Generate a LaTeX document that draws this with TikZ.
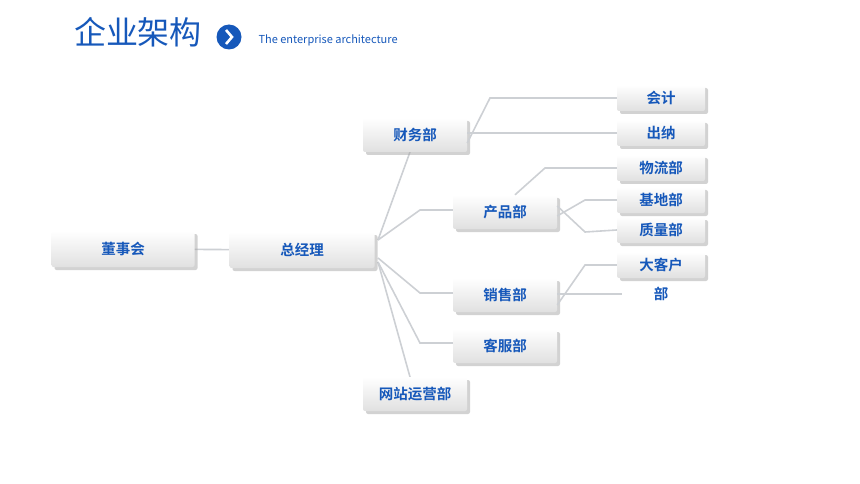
\documentclass[tikz,border=0pt]{standalone}
\usepackage{fontspec}
\setmainfont{Noto Sans CJK SC}
\newfontfamily\cjkbold{Noto Sans CJK SC Bold}
\usetikzlibrary{shadows}
\definecolor{deptblue}{RGB}{22,88,186}
\definecolor{linegray}{RGB}{205,208,212}
\tikzset{
	unitbox/.style={rectangle, rounded corners=2pt, minimum height=34pt, top color=white, bottom color=black!12,
		drop shadow={shadow xshift=3pt, shadow yshift=-3pt, fill=black!35, opacity=.5},
		text=deptblue, font=\cjkbold\fontsize{14.5}{14.5}\selectfont},
	leafbox/.style={unitbox, minimum width=88pt, minimum height=26pt},
	link/.style={draw=linegray, line width=1.6pt},
}
\begin{document}
\begin{tikzpicture}[x=1pt, y=-1pt]
\useasboundingbox (0,0) rectangle (860,484);
% title
\node (title) at (138,32) {\textcolor{deptblue}{\fontsize{32}{32}\selectfont 企业架构}};
\fill[deptblue] (229,37) circle (12.5);
\draw[white, line width=2.6pt] (226,30) -- (232,37) -- (226,44);
\node[anchor=west, text=deptblue, font=\fontsize{11}{11}\selectfont] (subtitle) at (255,40) {The enterprise architecture};
% links
\draw[link] (123,249) -- (302,250);
\draw[link] (378,240) -- (410,152);
\draw[link] (378,240) -- (420,210) -- (453,210);
\draw[link] (378,258) -- (420,293) -- (453,293);
\draw[link] (378,262) -- (420,343) -- (453,343);
\draw[link] (378,262) -- (410,377);
% boxes
\node[unitbox, minimum width=143pt, minimum height=36pt] (board) at (123,249) {董事会};
\node[unitbox, minimum width=145pt, minimum height=36pt] (ceo) at (302,250) {总经理};
\node[unitbox, minimum width=104pt] (finance) at (415,135) {财务部};
\node[unitbox, minimum width=104pt] (product) at (505,212) {产品部};
\node[unitbox, minimum width=104pt] (sales) at (505,295) {销售部};
\node[unitbox, minimum width=104pt] (service) at (505,346) {客服部};
\node[unitbox, minimum width=104pt] (web) at (415,394) {网站运营部};
\node[leafbox] (acct) at (661,98) {会计};
\node[leafbox] (cashier) at (661,133) {出纳};
\node[leafbox] (logis) at (661,168) {物流部};
\node[leafbox] (base) at (661,200) {基地部};
\node[leafbox] (quality) at (661,230) {质量部};
\node[leafbox] (vip) at (661,265) {大客户};
\node[text=deptblue, font=\cjkbold\fontsize{14.5}{14.5}\selectfont] (vipb) at (661,294) {部};
% second level links
\draw[link] ([yshift=-8pt]finance.east) -- (490,98) -- (acct.west);
\draw[link] (cashier.west -| finance.east) -- (cashier.west);
\draw[link] ([xshift=10pt]product.north) -- (545,168) -- (logis.west);
\draw[link] ([yshift=-4pt]product.east) -- (585,200) -- (base.west);
\draw[link] ([yshift=6pt]product.east) -- (585,232) -- (quality.west);
\draw[link] ([yshift=-10pt]sales.east) -- (585,265) -- (vip.west);
\draw[link] (vipb.west -| sales.east) -- ([xshift=-28pt]vipb.west);
\end{tikzpicture}
\end{document}
